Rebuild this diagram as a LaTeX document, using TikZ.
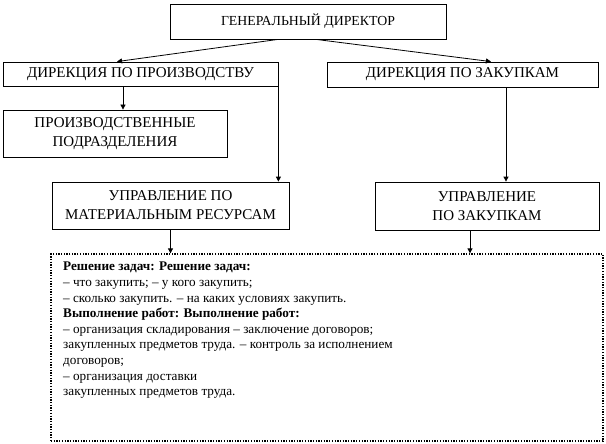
\documentclass[tikz,border=0pt]{standalone}
\usepackage{fontspec}
\setmainfont{Liberation Serif}
\usetikzlibrary{arrows.meta}
\begin{document}
\begin{tikzpicture}[x=1pt,y=-1pt,
  box/.style={draw, line width=0.8pt, inner sep=0pt, align=center, font=\fontsize{15}{19}\selectfont},
  arr/.style={line width=0.8pt, -{Triangle[width=5pt,length=5pt]}},
  dotbox/.style={draw, line width=1.3pt, dash pattern=on 1.3pt off 1.4pt, inner sep=0pt}]
\useasboundingbox (0,0) rectangle (606,444);
\node[box, minimum width=276pt, minimum height=35pt, font=\fontsize{13.8}{15}\selectfont] (gd) at (308,21.5) {ГЕНЕРАЛЬНЫЙ ДИРЕКТОР};
\node[box, minimum width=275pt, minimum height=24pt] (dp) at (140.5,74) {ДИРЕКЦИЯ ПО ПРОИЗВОДСТВУ};
\node[box, minimum width=271pt, minimum height=25pt] (dz) at (462.5,74.5) {ДИРЕКЦИЯ ПО ЗАКУПКАМ};
\node[box, minimum width=224pt, minimum height=47pt] (pd) at (115,133.5) {ПРОИЗВОДСТВЕННЫЕ\\ПОДРАЗДЕЛЕНИЯ};
\node[box, minimum width=237pt, minimum height=47pt] (mr) at (170.5,205.5) {УПРАВЛЕНИЕ ПО\\МАТЕРИАЛЬНЫМ РЕСУРСАМ};
\node[box, minimum width=224pt, minimum height=48pt] (uz) at (487,206) {УПРАВЛЕНИЕ\\ПО ЗАКУПКАМ};
\node[dotbox, minimum width=552pt, minimum height=187pt] (tb) at (327,347.5) {};
\node[anchor=north west, inner sep=0pt, align=left, font=\fontsize{13.2}{15.6}\selectfont] (tx) at (63,262)
{\textbf{Решение задач: Решение задач:}\\
– что закупить; – у кого закупить;\\
– сколько закупить. – на каких условиях закупить.\\
\textbf{Выполнение работ: Выполнение работ:}\\
– организация складирования – заключение договоров;\\
закупленных предметов труда. – контроль за исполнением\\
договоров;\\
– организация доставки\\
закупленных предметов труда.};
\draw[arr] ([xshift=-30pt]gd.south) -- ([xshift=-23.5pt]dp.north);
\draw[arr] ([xshift=8pt]gd.south) -- ([xshift=28.5pt]dz.north);
\draw[arr] ([xshift=8pt]pd.north |- dp.south) -- ([xshift=8pt]pd.north);
\draw[arr] (dp.south east) -- (dp.south east |- mr.north);
\draw[arr] ([xshift=43.5pt]dz.south) -- ([xshift=43.5pt]dz.south |- uz.north);
\draw[arr] (mr.south) -- (mr.south |- tb.north);
\draw[arr] ([xshift=-17pt]uz.south) -- ([xshift=-17pt]uz.south |- tb.north);
\end{tikzpicture}
\end{document}
